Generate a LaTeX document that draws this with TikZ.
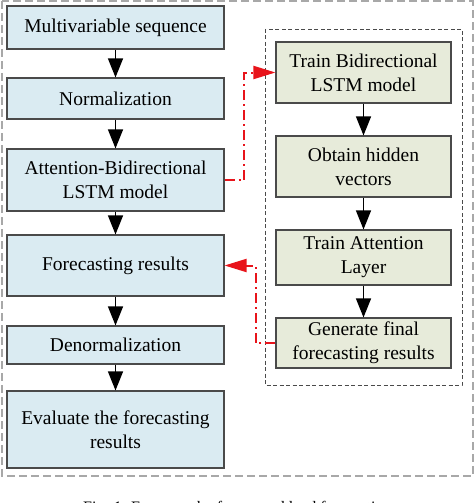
\documentclass[tikz,border=0pt]{standalone}
\usepackage{fontspec}
\setmainfont{Liberation Serif}
\usetikzlibrary{arrows.meta}
\definecolor{boxblue}{HTML}{DAEBF2}
\definecolor{boxgreen}{HTML}{E7EBDA}
\definecolor{edgegray}{HTML}{4A4A4A}
\definecolor{framegray}{HTML}{A8A8A8}
\definecolor{arrred}{HTML}{E8141B}
\begin{document}
\begin{tikzpicture}[x=1pt,y=-1pt,
  lbox/.style={draw=edgegray, line width=1.1pt, fill=boxblue, minimum width=217pt, inner sep=0pt, align=center,
    font=\fontsize{19.5}{24}\selectfont},
  rbox/.style={draw=edgegray, line width=1.1pt, fill=boxgreen, minimum width=175pt, inner sep=0pt, align=center,
    font=\fontsize{19.5}{24}\selectfont},
  flow/.style={draw=black, line width=1.3pt, -{Triangle[length=19pt,width=15pt]}},
  feed/.style={draw=arrred, line width=2pt, dash pattern=on 10pt off 4pt on 2pt off 4pt,
    -{Triangle[length=22pt,width=13pt]}},
  outerframe/.style={draw=framegray, line width=2pt, dash pattern=on 8pt off 4pt},
  innerframe/.style={draw=edgegray, line width=0.9pt, dash pattern=on 4pt off 2.5pt}]
\useasboundingbox (0,0) rectangle (474,503);
\clip (0,0) rectangle (474,503);

\draw[outerframe] (2,1) rectangle (472.5,476);
\draw[innerframe] (265,29) rectangle (462,385);

\node[lbox, minimum height=43pt] (b1) at (115.5,27.5) {Multivariable sequence};
\node[lbox, minimum height=41pt] (b2) at (115.5,98.5) {Normalization};
\node[lbox, minimum height=62pt] (b3) at (115.5,180) {Attention-Bidirectional\\LSTM model};
\node[lbox, minimum height=61pt] (b4) at (115.5,265.5) {Forecasting results};
\node[lbox, minimum height=38pt] (b5) at (115.5,345) {Denormalization};
\node[lbox, minimum height=77pt] (b6) at (115.5,429.5) {Evaluate the forecasting\\results};

\node[rbox, minimum height=61pt] (r1) at (363.5,72.5) {Train Bidirectional\\LSTM model};
\node[rbox, minimum height=61pt] (r2) at (363.5,166.5) {Obtain hidden\\vectors};
\node[rbox, minimum height=55pt] (r3) at (363.5,257.5) {Train Attention\\Layer};
\node[rbox, minimum height=50pt] (r4) at (363.5,343) {Generate final\\forecasting results};

\draw[flow] (b1) -- (b2);
\draw[flow] (b2) -- (b3);
\draw[flow] (b3) -- (b4);
\draw[flow] (b4) -- (b5);
\draw[flow] (b5) -- (b6);
\draw[flow] (r1) -- (r2);
\draw[flow] (r2) -- (r3);
\draw[flow] (r3) -- (r4);

\draw[feed] (b3.east) -- ++(19.5,0) |- (r1.west);
\draw[feed] (r4.west) -- ++(-19.5,0) |- (b4.east);

\node[anchor=base west, inner sep=0pt, font=\fontsize{16}{19}\selectfont] (cap) at (83,512) {Fig. 1. Framework of proposed load forecasting};
\end{tikzpicture}
\end{document}
